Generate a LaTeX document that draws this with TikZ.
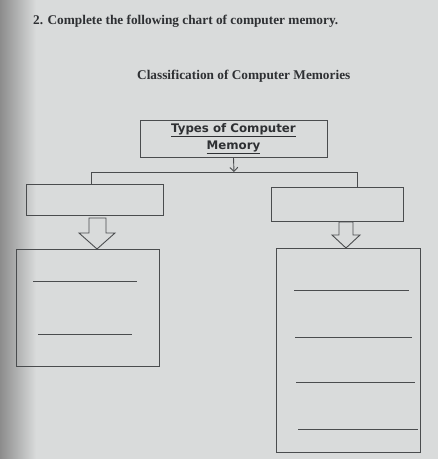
\documentclass[tikz,border=0pt]{standalone}
\usepackage{fontspec}
\setmainfont{Liberation Serif}
\newfontfamily\boxfont{DejaVu Sans}
\usetikzlibrary{arrows.meta,calc}
\definecolor{paper}{HTML}{D9DBDB}
\definecolor{ink}{HTML}{4A4C4E}
\definecolor{txt}{HTML}{2E3033}
\tikzset{
  frame/.style={draw=ink,line width=1pt},
  blank/.style={draw=ink,line width=0.9pt},
  conn/.style={draw=ink,line width=0.9pt},
  blockarrow/.style={draw=ink,line width=0.9pt,fill=paper,line join=miter},
  heading/.style={text=txt,font=\bfseries,inner sep=0pt,anchor=west},
}
\begin{document}
\begin{tikzpicture}[x=1pt,y=-1pt]
\useasboundingbox (0,0) rectangle (438,459);
\fill[paper] (0,0) rectangle (438,459);
\shade[left color=black!45,right color=paper] (0,0) rectangle (36,459);

\node[heading,font=\bfseries\fontsize{13.3}{15}\selectfont] (q) at (33,21) {2. Complete the following chart of computer memory.};
\node[heading,font=\bfseries\fontsize{13.3}{15}\selectfont] (title) at (137,76) {Classification of Computer Memories};

% top box
\node[frame,minimum width=187pt,minimum height=37pt,inner sep=0pt,text=txt,align=center,
  font=\boxfont\bfseries\fontsize{11.8}{17}\selectfont] (top) at (233.5,138.5)
  {\underline{Types of Computer}\\\underline{Memory}};

% second level boxes
\node[frame,minimum width=137pt,minimum height=31pt,inner sep=0pt] (l1) at (94.5,199.5) {};
\node[frame,minimum width=132pt,minimum height=34pt,inner sep=0pt] (r1) at (337,204) {};

% connectors
\coordinate (jc) at (234,172);
\coordinate (jl) at (91,172);
\coordinate (jr) at (357,172);
\draw[conn,-{Straight Barb[length=4pt,width=8pt]}] (top.south) -- (jc);
\draw[conn] (jl |- l1.north) -- (jl) -- (jr) -- (jr |- r1.north);

% bottom boxes
\node[frame,minimum width=143pt,minimum height=117pt,inner sep=0pt] (l2) at (87.5,307.5) {};
\node[frame,minimum width=144pt,minimum height=204pt,inner sep=0pt] (r2) at (348,350) {};

% block arrows
\coordinate (la) at (97,249);
\coordinate (ra) at (346,248);
\draw[blockarrow] (89,218) -- (106,218) -- (106,233) -- (115,233) -- (la)
  -- (79,233) -- (89,233) -- cycle;
\draw[blockarrow] (339,222) -- (353,222) -- (353,235) -- (360,235) -- (ra)
  -- (332,235) -- (339,235) -- cycle;

% answer lines
\draw[blank] (33,281) -- (137,281);
\draw[blank] (38,334) -- (132,334);
\draw[blank] (294,290) -- (409,290);
\draw[blank] (295,337) -- (412,337);
\draw[blank] (296,382) -- (415,382);
\draw[blank] (298,429) -- (418,429);
\end{tikzpicture}
\end{document}
